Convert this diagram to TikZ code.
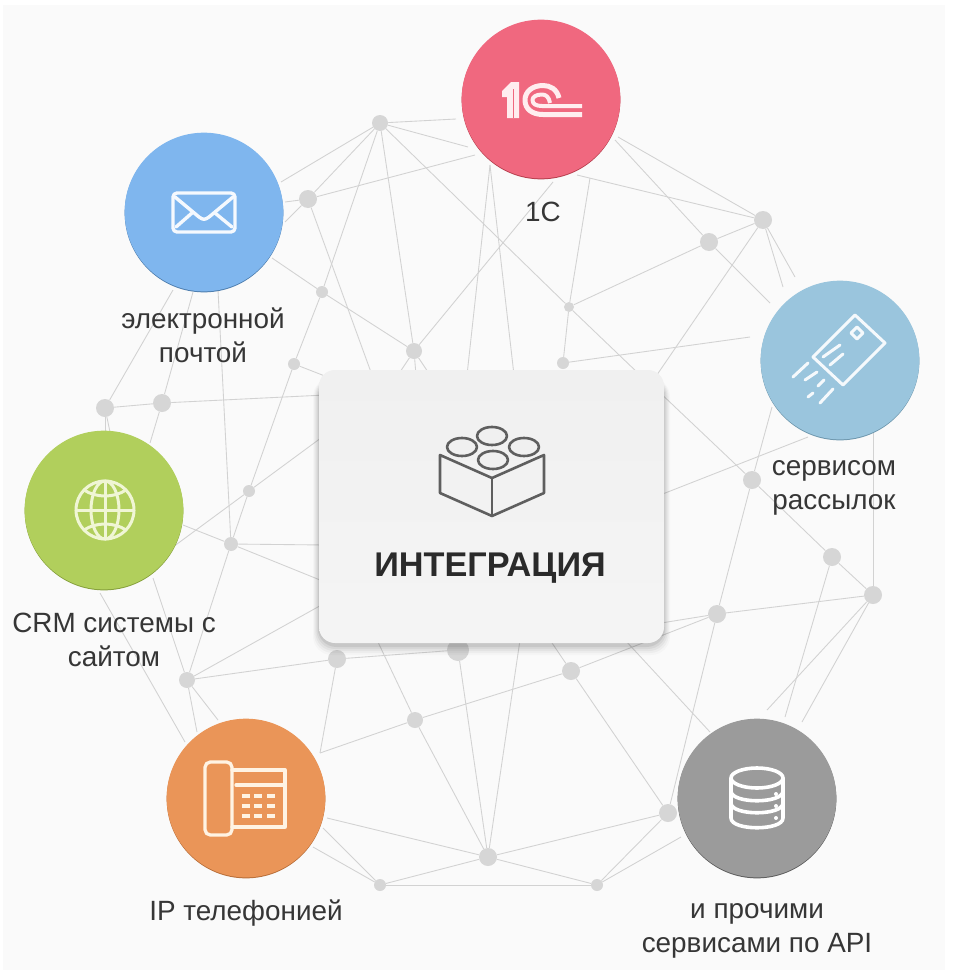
\documentclass[tikz,border=0pt]{standalone}
\usepackage{fontspec}
\setmainfont{Liberation Sans}
\pgfdeclarelayer{paper}
\pgfdeclarelayer{wires}
\pgfsetlayers{paper,wires,main}
\definecolor{paperc}{HTML}{FAFAFA}
\definecolor{wirec}{HTML}{D2D2D2}
\definecolor{dotc}{HTML}{D6D6D6}
\definecolor{cardc}{HTML}{F0F0F0}
\definecolor{inkc}{HTML}{2A2A2A}
\definecolor{capc}{HTML}{363636}
\definecolor{iconc}{HTML}{5F5F5F}
\definecolor{redc}{HTML}{F0687F}
\definecolor{redd}{HTML}{B8404F}
\definecolor{bluec}{HTML}{7FB6EE}
\definecolor{blued}{HTML}{4F7FAF}
\definecolor{skyc}{HTML}{9AC5DD}
\definecolor{skyd}{HTML}{6F98AE}
\definecolor{greenc}{HTML}{B1CF5C}
\definecolor{greend}{HTML}{86A03C}
\definecolor{orangec}{HTML}{EA9558}
\definecolor{oranged}{HTML}{B96F3A}
\definecolor{grayc}{HTML}{9B9B9B}
\definecolor{grayd}{HTML}{5E5E5E}
\definecolor{greenw}{HTML}{F0F6D5}
\definecolor{orangew}{HTML}{FFF3E3}
\definecolor{redw}{HTML}{FFEDEF}
\tikzset{
  netdot/.style={circle,fill=dotc,draw=none,inner sep=0pt,minimum size=#1*1.5pt},
  hub/.style={circle,draw=none,inner sep=0pt,minimum size=119pt,fill=#1},
  hubrim/.style={circle,draw=none,inner sep=0pt,minimum size=119pt,fill=#1},
  wire/.style={draw=wirec,line width=0.65pt},
  caption/.style={font=\fontsize{20.9}{25.5}\selectfont,text=capc,align=center,inner sep=0pt},
  pict/.style={line width=#1*0.75pt,line cap=round,line join=round},
  x=0.75pt,y=-0.75pt
}
\begin{document}
\begin{tikzpicture}
\useasboundingbox (0,0) rectangle (960,978);
\begin{pgfonlayer}{paper}
  \fill[white] (0,0) rectangle (960,978);
  \fill[paperc] (3,5) rectangle (945,970);
\end{pgfonlayer}

% network dots
\foreach \nm/\px/\py/\rr in {
 n1/380/123/8,n2/308/199/9,n3/322/292/6,n4/414/351/8,n5/294/364/6,n6/105/408/9,n7/162/403/9,
 n8/249/491/6,n9/231/544/7,n10/187/680/8,n11/337/659/9,n12/458/650/11,n13/415/720/8,
 n14/380/885/6,n15/488/857/9,n16/597/885/6,n17/668/813/9,n18/571/671/9,n19/717/614/9,
 n20/832/557/9,n21/873/595/9,n22/752/480/9,n23/563/363/6,n24/569/307/5,n25/709/242/9,n26/763/220/9}
 \node[netdot=\rr] (\nm) at (\px,\py) {};

% free ends of the connectors
\foreach \nm/\px/\py in {
 ra/456/119,rb/468/147,rc/475/155,rd/553/182,re/490/165,rf/590/178,rg/618/137,rh/615/140,ri/577/175,
 ba/281/182,bc/272/258,bd/285/202,be/285/222,bl1/218/290,bl2/193/292,bl3/173/290,
 la/770/303,lb/783/287,lc/795/277,ld/750/337,le/772/407,lf/808/437,lg/873/433,
 ga/785/717,gb/767/710,gc/802/722,gd/710/732,ge/681/837,
 oa/327/818,ob/323/828,oc/313/847,od/320/753,oe/197/732,of/218/720,og/185/742,
 gr/100/593,gh/153/578,gi/183/525,gj/173/547,gk/150/443,gl/105/432,gm/110/432,
 bx1/372/375,bx2/467/375,bx3/514/375,bx4/650/385,bx5/640/375,bx6/398/375,bx7/416/375,bx8/430/375,
 bx9/330/378,bx10/655/388,bx11/655/497,bx12/655/624,bx13/550/640,bx14/625/640,bx15/520/640,
 bx16/325/603,bx17/377/640,bx18/325/545,bx19/325/582,bx20/325/435,bx21/325/395}
 \coordinate (\nm) at (\px,\py);

% card shadow and card
\foreach \k/\op in {10/0.02,8/0.03,6/0.04,4/0.05,2/0.07}
  \fill[black,opacity=\op,rounded corners=14pt] (319-\k*0.6,378) rectangle (664+\k*0.6,645+\k);
\node[draw=none,inner sep=0pt,rounded corners=12pt,minimum width=258.75pt,minimum height=204.75pt,
      top color=cardc,bottom color=cardc!70!white] (card) at (491.5,506.5) {};
\node[font=\fontsize{25.7}{30}\selectfont\bfseries,text=inkc,inner sep=0pt] (cardtext) at (490,568) {ИНТЕГРАЦИЯ};

% hubs
\node[hubrim=redd] at (541,100) {};    \node[hub=redc]    (red)    at (541,99) {};
\node[hubrim=blued] at (204,213) {};   \node[hub=bluec]   (blue)   at (204,212) {};
\node[hubrim=skyd] at (840,361) {};    \node[hub=skyc]    (sky)    at (840,360) {};
\node[hubrim=greend] at (104,511) {};  \node[hub=greenc]  (green)  at (104,510) {};
\node[hubrim=oranged] at (246,799) {}; \node[hub=orangec] (orange) at (246,798) {};
\node[hubrim=grayd] at (757,799) {};   \node[hub=grayc]   (gray)   at (757,798) {};

% captions
\node[caption] (cap1) at (543,212) {1С};
\node[caption] (cap2) at (203,335) {электронной\\почтой};
\node[caption] (cap3) at (834,488) {сервисом\\рассылок};
\node[caption] (cap4) at (114,640) {CRM системы с\\сайтом};
\node[caption] (cap5) at (246,913) {IP телефонией};
\node[caption] (cap6) at (757,931) {и прочими\\сервисами по API};

% connectors
\begin{pgfonlayer}{wires}
\foreach \a/\b in {
 n1/ra,n1/rb,n1/ba,n1/n2,n1/n3,n1/n4,n1/n24,n3/n5,n5/n8,n3/n4,n3/bc,
 n2/rc,n2/bd,n2/be,n2/bx1,n4/rd,re/bx2,re/bx3,rf/n24,n24/n23,rg/n26,rh/n25,n25/la,ri/n26,
 n25/n26,n25/n24,n26/lb,n26/lc,n26/bx4,n23/ld,n24/bx5,n4/bx6,n4/bx7,n4/bx8,n5/bx9,
 n22/bx10,n22/le,lf/bx11,n22/n19,n22/n20,n20/n21,lg/n21,n21/n19,n20/ga,n21/gb,n21/gc,
 n19/bx12,n19/n18,n18/n13,n18/bx13,n19/n17,n18/n17,bx14/gd,n15/bx15,n15/n17,n15/n16,
 n14/n16,n14/n15,n13/n15,n12/n15,n16/n17,n16/ge,oa/n15,ob/n14,oc/n14,od/n13,od/n11,
 n10/oe,n10/of,gr/og,n10/n11,n10/bx16,n10/n9,n10/gh,n11/n12,n13/bx17,n9/bx18,n9/bx19,
 n9/gi,n8/gj,n8/bx20,n8/n9,bl1/n9,n7/n6,n7/bx21,n7/bl2,n7/gk,n6/bl3,n6/gl,n6/gm}
 \draw[wire] (\a) -- (\b);
\end{pgfonlayer}

% envelope icon
\begin{scope}[draw=white!92!bluec,pict=3.4]
  \draw[rounded corners=3pt] (173,193) rectangle (235,232);
  \draw (175,197) -- (199,217) .. controls (203,220) and (205,220) .. (209,217) -- (233,197);
  \draw (176,227) -- (192,213) (232,227) -- (215,213);
\end{scope}

% 1C logo
\begin{scope}[draw=redw,pict=5]
  \fill[redw] (502,91) -- (511,82) -- (519,82) -- (519,118) -- (507,118) -- (507,97) -- (502,97) -- cycle;
  \draw[redc,line width=0.9pt,line cap=butt] (513.5,89) -- (513.5,118);
  \draw[line cap=butt] (559,98) .. controls (557,89) and (550,85.5) .. (543,85.5)
        .. controls (532,85.5) and (525,92) .. (525,100)
        .. controls (525,109) and (532,114.5) .. (543,114.5) -- (582,114.5);
  \draw[line cap=butt,line width=3pt] (550,103) .. controls (549,97) and (546,94.5) .. (542,94.5)
        .. controls (536,94.5) and (532.5,97) .. (532.5,100)
        .. controls (532.5,104) and (536,106) .. (542,106) -- (582,106);
\end{scope}

% letter icon
\begin{scope}[draw=white!90!skyc,pict=3]
  \draw (855,315) -- (885,343) -- (843,385) -- (813,357) -- cycle;
  \draw (857,327) -- (863,333) -- (857,339) -- (851,333) -- cycle;
  \draw (823,357) -- (840,345) (830,365) -- (843,354);
  \draw (793,377) -- (808,363) (805,380) -- (817,372) (818,386) -- (824,380);
  \draw (808,397) -- (813,393) (820,403) -- (833,389);
\end{scope}

% globe icon
\begin{scope}[draw=greenw,pict=3]
  \draw (105,510) circle[radius=29];
  \draw (105,481) -- (105,539) (76,510) -- (134,510);
  \draw (105,510) ellipse[x radius=14,y radius=29];
  \draw (84,490) .. controls (96,498) and (114,498) .. (126,490);
  \draw (84,530) .. controls (96,522) and (114,522) .. (126,530);
\end{scope}

% telephone icon
\begin{scope}[draw=orangew,pict=3.3]
  \draw[rounded corners=4pt] (205,762) rectangle (232,835);
  \draw (232,770) -- (285,770) -- (285,827) -- (232,827);
  \draw (236,785) -- (285,785);
  \foreach \dy in {796,806,816}
    \foreach \dx in {246,258,271}
      \fill[orangew] (\dx-4,\dy-1.8) rectangle (\dx+4,\dy+1.8);
\end{scope}

% database icon
\begin{scope}[draw=white,pict=3.6]
  \draw (757,778) ellipse[x radius=26,y radius=10];
  \draw (731,778) -- (731,818) .. controls (731,831) and (783,831) .. (783,818) -- (783,778);
  \draw (731,791) .. controls (731,804) and (783,804) .. (783,791);
  \draw (731,803) .. controls (731,816) and (783,816) .. (783,803);
  \foreach \dy in {794,806,818} \fill[white] (776,\dy) circle[radius=2];
\end{scope}

% brick icon
\begin{scope}[draw=iconc,pict=2.6]
  \draw (440,455) -- (492,478) -- (544,455) -- (544,493) -- (492,516) -- (440,493) -- cycle;
  \draw (492,478) -- (492,516);
  \foreach \cx/\cy in {462/447,492/436,524/447,493/460}
    \draw[fill=cardc] (\cx,\cy) ellipse[x radius=15,y radius=9];
\end{scope}
\end{tikzpicture}
\end{document}
